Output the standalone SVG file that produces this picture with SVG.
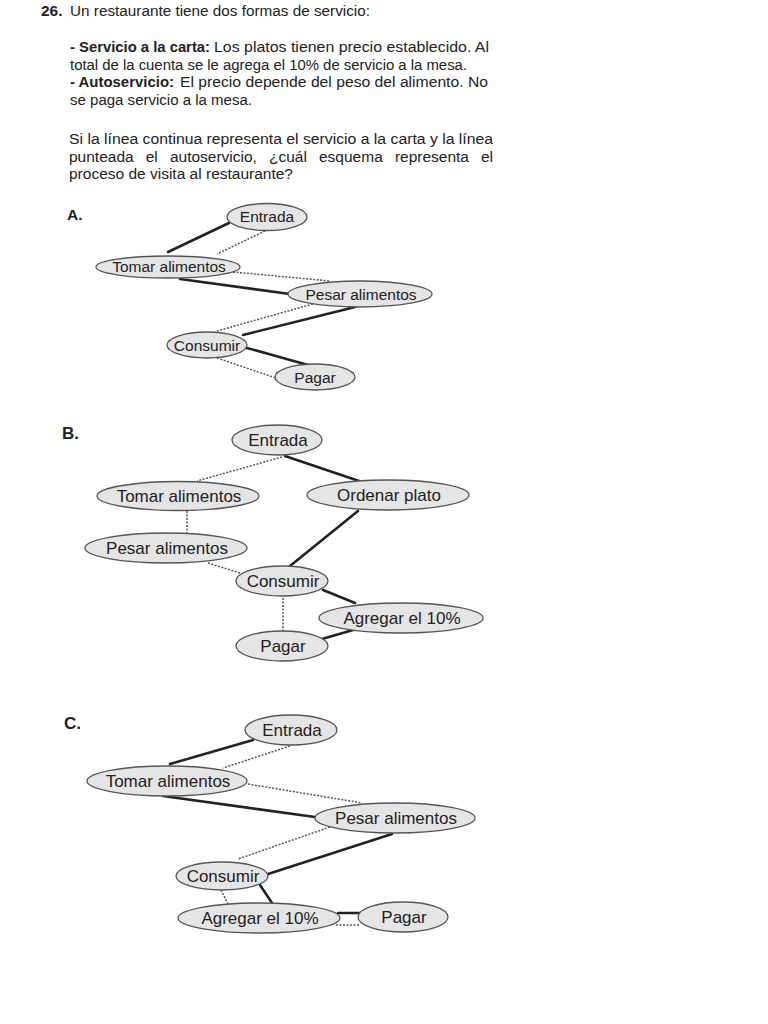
<svg xmlns="http://www.w3.org/2000/svg" width="768" height="1024" viewBox="0 0 768 1024">
<style>
text{font-family:"Liberation Sans",Arial,sans-serif;fill:#222}
.h{font-size:15.5px}
.b{font-weight:bold}
.n{fill:#e5e5e5;stroke:#555;stroke-width:1.3}
.ta{font-size:15.5px;text-anchor:middle}
.tb{font-size:17px;text-anchor:middle}
.s{stroke:#222;stroke-width:2.6;fill:none;stroke-linecap:round}
.d{stroke:#555;stroke-width:1.5;fill:none;stroke-dasharray:2 1.5}
</style>
<rect width="768" height="1024" fill="#fff"/>
<g id="question">
<text class="h b" x="41" y="16">26.</text>
<text class="h" x="70" y="16" textLength="300" lengthAdjust="spacingAndGlyphs">Un restaurante tiene dos formas de servicio:</text>
<text class="h b" x="70" y="52" textLength="140" lengthAdjust="spacingAndGlyphs">- Servicio a la carta:</text>
<text class="h" x="214" y="52" textLength="275" lengthAdjust="spacingAndGlyphs">Los platos tienen precio establecido. Al</text>
<text class="h" x="70" y="69.5" textLength="397" lengthAdjust="spacingAndGlyphs">total de la cuenta se le agrega el 10% de servicio a la mesa.</text>
<text class="h b" x="70" y="87" textLength="104" lengthAdjust="spacingAndGlyphs">- Autoservicio:</text>
<text class="h" x="180" y="87" textLength="308" lengthAdjust="spacingAndGlyphs">El precio depende del peso del alimento. No</text>
<text class="h" x="70" y="104.5" textLength="182" lengthAdjust="spacingAndGlyphs">se paga servicio a la mesa.</text>
<text class="h" x="69" y="144" textLength="424" lengthAdjust="spacingAndGlyphs">Si la línea continua representa el servicio a la carta y la línea</text>
<text class="h" y="161.5"><tspan x="69">punteada</tspan><tspan x="145.7">el</tspan><tspan x="169.9">autoservicio,</tspan><tspan x="269">¿cuál</tspan><tspan x="319">esquema</tspan><tspan x="394.9">representa</tspan><tspan x="481">el</tspan></text>
<text class="h" x="69" y="179" textLength="224" lengthAdjust="spacingAndGlyphs">proceso de visita al restaurante?</text>
</g>

<text class="h b" x="67" y="220">A.</text>
<g id="connectors-A">
<line class="s" x1="229" y1="223" x2="168" y2="252"/>
<line class="d" x1="265" y1="231" x2="217" y2="254"/>
<line class="d" x1="233" y1="272" x2="330" y2="281"/>
<line class="s" x1="180" y1="279" x2="290" y2="294"/>
<line class="d" x1="313" y1="304" x2="217" y2="331"/>
<line class="s" x1="355" y1="307" x2="243" y2="335"/>
<line class="s" x1="247" y1="348" x2="308" y2="365"/>
<line class="d" x1="217" y1="358" x2="276" y2="378"/>
</g>
<g id="A-entrada"><ellipse class="n" cx="267" cy="217" rx="40" ry="13.5"/><text class="ta" x="267" y="222">Entrada</text></g>
<g id="A-tomar"><ellipse class="n" cx="168" cy="267" rx="72" ry="11"/><text class="ta" x="169" y="272">Tomar alimentos</text></g>
<g id="A-pesar"><ellipse class="n" cx="360" cy="294" rx="72" ry="13"/><text class="ta" x="361" y="299.5">Pesar alimentos</text></g>
<g id="A-consumir"><ellipse class="n" cx="207" cy="345" rx="40" ry="13"/><text class="ta" x="207" y="350.5">Consumir</text></g>
<g id="A-pagar"><ellipse class="n" cx="315" cy="377" rx="40" ry="13"/><text class="ta" x="315" y="382.5">Pagar</text></g>

<text class="h b" x="62" y="439" style="font-size:17px">B.</text>
<g id="connectors-B">
<line class="d" x1="282" y1="457" x2="197" y2="481"/>
<line class="s" x1="285" y1="456" x2="359" y2="481"/>
<line class="d" x1="187" y1="511" x2="187" y2="533"/>
<line class="s" x1="358" y1="511" x2="290" y2="566"/>
<line class="d" x1="208" y1="563" x2="243" y2="574"/>
<line class="s" x1="323" y1="590" x2="355" y2="603"/>
<line class="d" x1="283" y1="598" x2="283" y2="631"/>
<line class="s" x1="353" y1="630" x2="322" y2="639"/>
</g>
<g id="B-entrada"><ellipse class="n" cx="277" cy="440" rx="45" ry="15"/><text class="tb" x="278" y="446">Entrada</text></g>
<g id="B-tomar"><ellipse class="n" cx="178" cy="496" rx="81" ry="14.5"/><text class="tb" x="179" y="502">Tomar alimentos</text></g>
<g id="B-ordenar"><ellipse class="n" cx="388" cy="495" rx="81" ry="15"/><text class="tb" x="389" y="501">Ordenar plato</text></g>
<g id="B-pesar"><ellipse class="n" cx="166" cy="548" rx="81" ry="15"/><text class="tb" x="167" y="554">Pesar alimentos</text></g>
<g id="B-consumir"><ellipse class="n" cx="282" cy="581" rx="46" ry="15"/><text class="tb" x="283" y="587">Consumir</text></g>
<g id="B-agregar"><ellipse class="n" cx="401" cy="618" rx="82" ry="15"/><text class="tb" x="402" y="624">Agregar el 10%</text></g>
<g id="B-pagar"><ellipse class="n" cx="282" cy="646" rx="46" ry="15"/><text class="tb" x="283" y="652">Pagar</text></g>

<text class="h b" x="64" y="729" style="font-size:17px">C.</text>
<g id="connectors-C">
<line class="s" x1="253" y1="740" x2="170" y2="764"/>
<line class="d" x1="290" y1="746" x2="223" y2="768"/>
<line class="d" x1="248" y1="784" x2="362" y2="803"/>
<line class="s" x1="163" y1="796" x2="315" y2="817"/>
<line class="d" x1="330" y1="827" x2="238" y2="859"/>
<line class="s" x1="392" y1="834" x2="268" y2="874"/>
<line class="d" x1="221" y1="890" x2="228" y2="904"/>
<line class="s" x1="260" y1="885" x2="272" y2="903"/>
<line class="s" x1="338" y1="913" x2="360" y2="913"/>
<line class="d" x1="336" y1="925" x2="360" y2="925"/>
</g>
<g id="C-entrada"><ellipse class="n" cx="291" cy="730" rx="46" ry="15"/><text class="tb" x="292" y="736">Entrada</text></g>
<g id="C-tomar"><ellipse class="n" cx="167" cy="781" rx="80" ry="15"/><text class="tb" x="168" y="787">Tomar alimentos</text></g>
<g id="C-pesar"><ellipse class="n" cx="395" cy="818" rx="80" ry="15"/><text class="tb" x="396" y="824">Pesar alimentos</text></g>
<g id="C-consumir"><ellipse class="n" cx="222" cy="876" rx="46" ry="14"/><text class="tb" x="223" y="882">Consumir</text></g>
<g id="C-agregar"><ellipse class="n" cx="259" cy="918" rx="81" ry="15"/><text class="tb" x="260" y="924">Agregar el 10%</text></g>
<g id="C-pagar"><ellipse class="n" cx="403" cy="917" rx="45" ry="15"/><text class="tb" x="404" y="923">Pagar</text></g>
</svg>
